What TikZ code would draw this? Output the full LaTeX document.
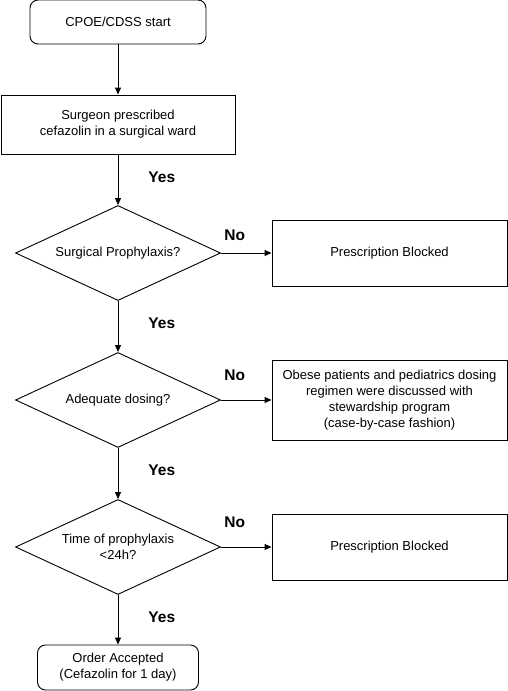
\documentclass[tikz,border=0pt]{standalone}
\usepackage{fontspec}
\setmainfont{Liberation Sans}
\usetikzlibrary{shapes.geometric,arrows.meta,positioning}

\begin{document}
\begin{tikzpicture}[x=1pt,y=-1pt,>={Triangle[length=7pt,width=6pt]},line width=0.9pt,
  box/.style = {draw, rectangle, align=center, inner sep=0pt, font=\fontsize{13}{16}\selectfont},
  startbox/.style = {box, rounded corners=8pt},
  decision/.style = {draw, diamond, aspect=2.2, align=center, inner sep=0pt, font=\fontsize{13}{16}\selectfont, minimum width=205pt, minimum height=95pt},
  yes/.style = {right=30pt, inner sep=0pt, yshift=3pt, font=\fontsize{15.5}{18}\bfseries},
  no/.style = {pos=0, anchor=south west, inner sep=0pt, xshift=3pt, font=\fontsize{15.5}{18}\bfseries},]
\useasboundingbox (0,0) rectangle (508,691);
\node (start) at (118,22)[startbox,minimum width=176pt,minimum height=44pt] {CPOE/CDSS start};
\node (surgeon) at (118,124.5)[box,minimum width=234pt,minimum height=59pt] {Surgeon prescribed\\cefazolin in a surgical ward};
\node (prophy) at (118,253)[decision] {Surgical Prophylaxis?};
\node (block1) at (389.5,253)[box,minimum width=235pt,minimum height=66pt] {Prescription Blocked};
\node (dosing) at (118,400)[decision] {Adequate dosing?};
\node (obese) at (389.5,400)[box,minimum width=235pt,minimum height=80pt] {Obese patients and pediatrics dosing\\regimen were discussed with\\stewardship program\\(case-by-case fashion)};
\node (time) at (118,547)[decision] {Time of prophylaxis\\<24h?};
\node (block2) at (389.5,547)[box,minimum width=235pt,minimum height=66pt] {Prescription Blocked};
\node (accept) at (118,667.5)[startbox,minimum width=161pt,minimum height=45pt] {Order Accepted\\(Cefazolin for 1 day)};
\draw[->] (start)--(surgeon);
\draw[->] (surgeon)-- node[yes] {Yes} (prophy);
\draw[->] (prophy)-- node[yes] {Yes} (dosing);
\draw[->] (dosing)-- node[yes] {Yes} (time);
\draw[->] (time)-- node[yes] {Yes} (accept);
\draw[->] (prophy.east)-- node[no,yshift=12pt] {No} (block1);
\draw[->] (dosing.east)-- node[no,yshift=19pt] {No} (obese);
\draw[->] (time.east)-- node[no,yshift=19pt] {No} (block2);
\end{tikzpicture}
\end{document}
